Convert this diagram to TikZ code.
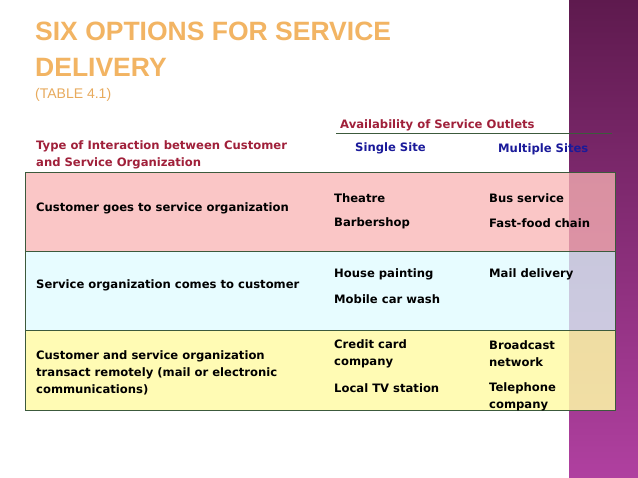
\documentclass[tikz,border=0pt]{standalone}
\usepackage{fontspec}
\setmainfont{Liberation Sans}
\newfontfamily\tb{DejaVu Sans}
\usetikzlibrary{shadings}
\definecolor{ttl}{HTML}{F2B463}
\definecolor{hdr}{HTML}{A0203A}
\definecolor{blu}{HTML}{1A1A9A}
\definecolor{rowa}{HTML}{F9B4B4}
\definecolor{rowb}{HTML}{DFFCFF}
\definecolor{rowc}{HTML}{FFFBA8}
\definecolor{edge}{HTML}{3C5A3C}
\definecolor{stripA}{HTML}{5E1A4E}
\definecolor{stripB}{HTML}{B040A0}
\tikzset{x=1pt,y=-1pt,
 txt/.style={anchor=west,inner sep=0pt,font=\tb\fontsize{11.6}{17}\selectfont\bfseries,align=left}}
\begin{document}
\begin{tikzpicture}
\useasboundingbox (0,0) rectangle (638,478);
\fill[white] (0,0) rectangle (638,478);
\shade[top color=stripA,bottom color=stripB] (569,0) rectangle (638,478);
\node[anchor=west,inner sep=0pt,text=ttl,font=\fontsize{26.5}{28}\selectfont\bfseries] (t1) at (35,31) {SIX OPTIONS FOR SERVICE};
\node[anchor=west,inner sep=0pt,text=ttl,font=\fontsize{26.5}{28}\selectfont\bfseries] (t2) at (35,67) {DELIVERY};
\node[anchor=west,inner sep=0pt,text=ttl!80!brown,font=\fontsize{14}{15}\selectfont] (t3) at (35,95) {(TABLE 4.1)};
\node[txt,text=hdr] (av) at (340,125) {Availability of Service Outlets};
\draw[edge,line width=0.8pt] (336,133) -- (612,133);
\node[txt,text=hdr] (ty) at (36,155) {Type of Interaction between Customer\\and Service Organization};
\node[txt,text=blu] (ss) at (355,148) {Single Site};
\node[txt,text=blu] (ms) at (498,149) {Multiple Sites};
\fill[rowa,fill opacity=0.75] (25,172) rectangle (615,251);
\fill[rowb,fill opacity=0.75] (25,251) rectangle (615,330);
\fill[rowc,fill opacity=0.85] (25,330) rectangle (615,410);
\draw[edge,line width=0.8pt] (25,172) rectangle (615,410) (25,251)--(615,251) (25,330)--(615,330);
\node[txt] (r1) at (36,208) {Customer goes to service organization};
\node[txt] (r2) at (36,285) {Service organization comes to customer};
\node[txt] (r3) at (36,373) {Customer and service organization\\transact remotely (mail or electronic\\communications)};
\node[txt] (a1) at (334,198) {Theatre};
\node[txt] (a2) at (334,223) {Barbershop};
\node[txt] (b1) at (489,198) {Bus service};
\node[txt] (b2) at (489,223) {Fast-food chain};
\node[txt] (c1) at (334,274) {House painting};
\node[txt] (c2) at (334,299) {Mobile car wash};
\node[txt] (d1) at (489,274) {Mail delivery};
\node[txt] (e1) at (334,354) {Credit card\\company};
\node[txt] (e2) at (334,388) {Local TV station};
\node[txt] (f1) at (489,354) {Broadcast\\network};
\node[txt] (f2) at (489,397) {Telephone\\company};
\end{tikzpicture}
\end{document}
